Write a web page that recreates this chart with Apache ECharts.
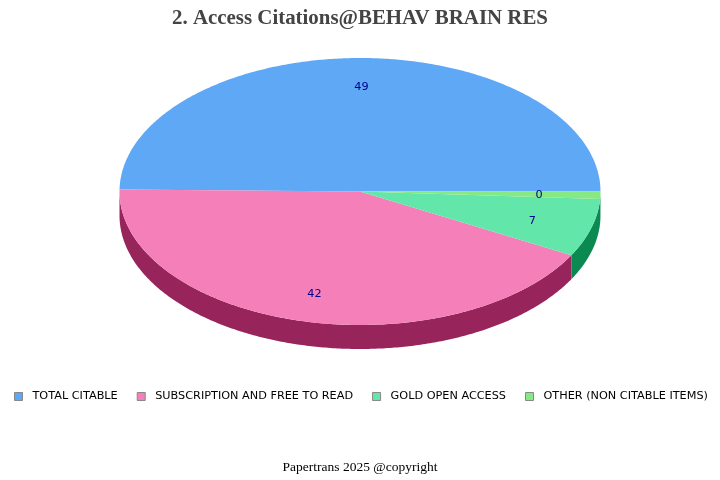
<!DOCTYPE html>
<html>
<head>
<meta charset="utf-8">
<style>html,body{margin:0;padding:0;background:#fff}#c{width:720px;height:480px}</style>
<script src="https://cdn.jsdelivr.net/npm/echarts@6/dist/echarts.min.js"></script>
</head>
<body>
<div id="c"></div>
<script>
const categories = ['TOTAL CITABLE', 'SUBSCRIPTION AND FREE TO READ', 'GOLD OPEN ACCESS', 'OTHER (NON CITABLE ITEMS)'];
const values = [49.75, 42.33, 7.03, 0.89];
const shownLabels = ['49', '42', '7', '0'];
const topColors = ['#5fa8f5', '#f47fb9', '#63e6a9', '#87e983'];
const sideColors = ['#1f5f9f', '#98245c', '#0a8a50', '#0a8a50'];

const CX = 360, CY = 191.5, RX = 240.5, RY = 133.5, DEPTH = 24;
const total = values.reduce((a, b) => a + b, 0);
function pt(a, dy) { return [CX + RX * Math.cos(a), CY - RY * Math.sin(a) + (dy || 0)]; }
function arc(a0, a1, dy) {
  const n = Math.max(2, Math.ceil(Math.abs(a1 - a0) / 0.01));
  const out = [];
  for (let i = 0; i <= n; i++) out.push(pt(a0 + (a1 - a0) * i / n, dy));
  return out;
}
function makeSeries(idx) {
  return {
    type: 'custom',
    name: categories[idx],
    coordinateSystem: 'none',
    silent: true,
    animation: false,
    itemStyle: { color: topColors[idx], borderColor: '#888', borderWidth: 1 },
    data: [values[idx]],
    renderItem: function () {
      let before = 0;
      for (let i = 0; i < idx; i++) before += values[i];
      const a0 = before / total * 2 * Math.PI;
      const a1 = (before + values[idx]) / total * 2 * Math.PI;
      const mid = (a0 + a1) / 2;
      const children = [];
      const w0 = Math.max(a0, Math.PI), w1 = a1;
      if (w1 > w0) {
        const lower = arc(w0, w1, 0);
        const upper = arc(w1, w0, DEPTH);
        children.push({ type: 'polygon', shape: { points: lower.concat(upper) }, style: { fill: sideColors[idx] } });
      }
      children.push({
        type: 'polygon',
        z2: 5,
        shape: { points: [[CX, CY]].concat(arc(a0, a1, 0)) },
        style: { fill: topColors[idx] }
      });
      children.push({
        type: 'text',
        z2: 10,
        style: {
          x: CX + RX * 0.745 * Math.cos(mid),
          y: CY - RY * 0.79 * Math.sin(mid) + 1,
          text: shownLabels[idx],
          fill: '#00008b',
          font: '11.25px "DejaVu Sans"',
          align: 'center',
          verticalAlign: 'middle'
        }
      });
      return { type: 'group', children: children };
    }
  };
}
const chart = echarts.init(document.getElementById('c'), null, { renderer: 'canvas' });
chart.setOption({
  backgroundColor: '#fff',
  animation: false,
  title: [
    { text: '2. Access Citations@BEHAV BRAIN RES', left: 'center', top: 3,
      textStyle: { fontFamily: 'Liberation Serif', fontSize: 20.9, fontWeight: 'bold', color: '#444' } },
    { text: 'Papertrans 2025 @copyright', left: 'center', top: 455,
      textStyle: { fontFamily: 'Liberation Serif', fontSize: 13.5, fontWeight: 'normal', color: '#000' } }
  ],
  legend: {
    left: 14, top: 391, width: 710, itemWidth: 8, itemHeight: 8, itemGap: 19, padding: 0,
    icon: 'rect', selectedMode: false,
    data: categories,
    itemStyle: { borderColor: '#888', borderWidth: 1 },
    textStyle: { fontFamily: 'DejaVu Sans', fontSize: 11.25, color: '#000', padding: [0, 0, 0, 5] }
  },
  series: categories.map((_, i) => makeSeries(i))
});
</script>
</body>
</html>
